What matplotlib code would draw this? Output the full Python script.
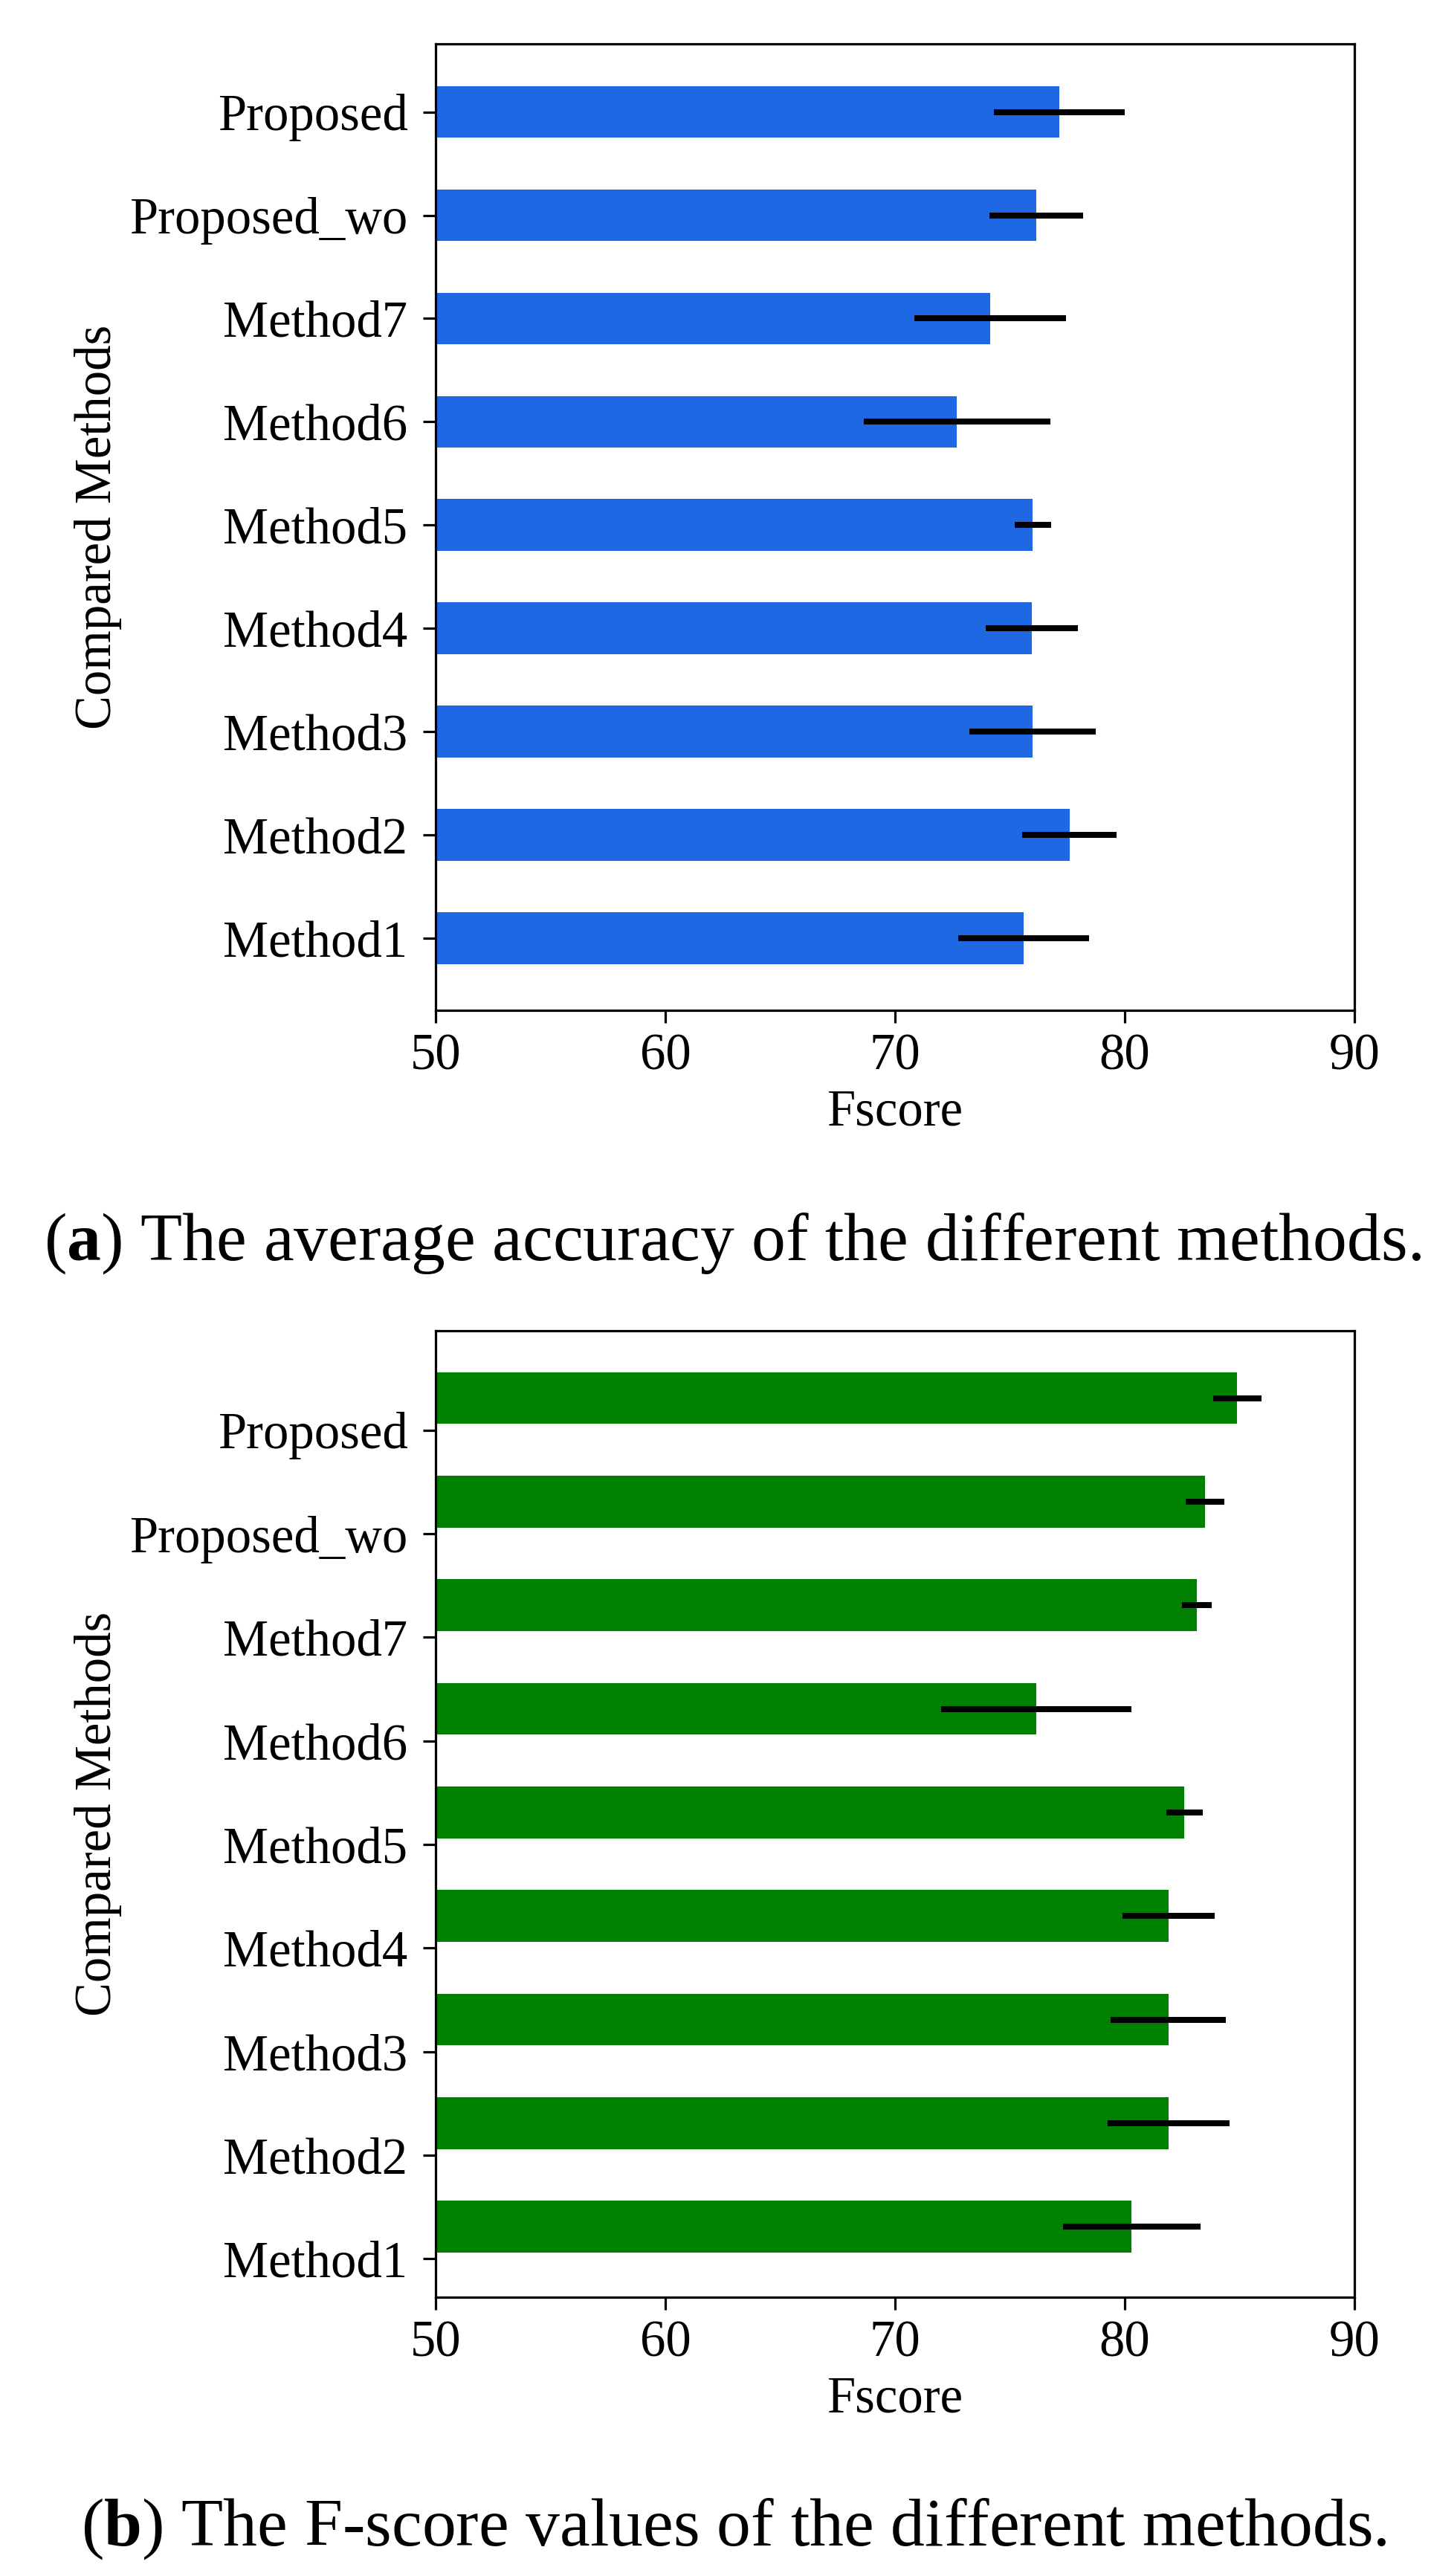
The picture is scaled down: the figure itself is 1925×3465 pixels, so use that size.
import numpy as np
import matplotlib
matplotlib.use("Agg")
import matplotlib.pyplot as plt

# values
methods = ['Method1', 'Method2', 'Method3', 'Method4', 'Method5',
           'Method6', 'Method7', 'Proposed_wo', 'Proposed']
accuracy = [75.6, 77.6, 76.0, 75.95, 76.0, 72.7, 74.15, 76.15, 77.15]
accuracy_err = [2.85, 2.05, 2.75, 2.0, 0.8, 4.05, 3.3, 2.05, 2.85]
fscore = [80.3, 81.9, 81.9, 81.9, 82.6, 76.15, 83.15, 83.5, 84.9]
fscore_err = [3.0, 2.65, 2.5, 2.0, 0.8, 4.15, 0.65, 0.85, 1.05]
xticks = [50, 60, 70, 80, 90]

plt.rcParams['font.family'] = ['Liberation Serif', 'DejaVu Serif']
plt.rcParams['mathtext.fontset'] = 'custom'
plt.rcParams['mathtext.rm'] = 'Liberation Serif'
plt.rcParams['mathtext.bf'] = 'Liberation Serif:bold'

W, H = 1925, 3465
fig = plt.figure(figsize=(W / 100, H / 100), dpi=100)

FS = 49.5
LW = 2.3


def px(x0, y0, x1, y1):
    """figure rect from pixel box"""
    return [x0 / W, 1 - y1 / H, (x1 - x0) / W, (y1 - y0) / H]


def draw(ax, vals, errs, color, offset, ylim):
    y = np.arange(len(methods))
    ax.barh(y + offset, vals, height=0.5, color=color, xerr=errs,
            error_kw=dict(elinewidth=5.8, ecolor='black', capsize=0))
    ax.set_yticks(y)
    ax.set_yticklabels(methods)
    ax.set_xticks(xticks)
    ax.set_xlim(50, 90)
    ax.set_ylim(*ylim)
    ax.tick_params(axis='both', labelsize=FS, length=12, width=LW)
    ax.tick_params(axis='y', pad=15)
    ax.tick_params(axis='x', pad=10)
    for s in ax.spines.values():
        s.set_linewidth(LW)
    ax.set_xlabel('Fscore', fontsize=FS, va='center')
    ax.xaxis.set_label_coords(0.5, -0.106)
    ax.set_ylabel('Compared Methods', fontsize=FS, va='center')
    ax.yaxis.set_label_coords(-0.367, 0.5)


ax1 = fig.add_axes(px(586, 59, 1822, 1359))
draw(ax1, accuracy, accuracy_err, '#1e68e4', 0.0, (-0.70, 8.66))

ax2 = fig.add_axes(px(586, 1790, 1822, 3090))
draw(ax2, fscore, fscore_err, '#008000', 0.31, (-0.37, 8.96))

fig.text(0.512, 1 - 1673 / H, r'($\mathbf{a}$) The average accuracy of the different methods.',
         fontsize=66, ha='center', va='center')
fig.text(0.513, 1 - 3402 / H, r'($\mathbf{b}$) The F-score values of the different methods.',
         fontsize=66, ha='center', va='center')

fig.savefig('out.png', dpi=100)
